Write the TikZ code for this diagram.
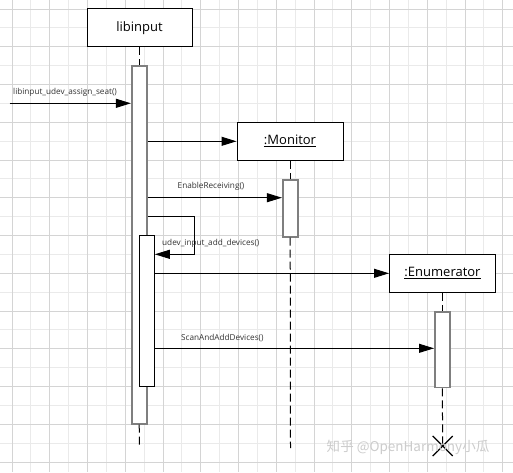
\documentclass[tikz,border=0pt]{standalone}
\usepackage{fontspec}
\setmainfont{Open Sans}
\newfontfamily\cjkfont{Noto Sans CJK SC}
\usetikzlibrary{arrows.meta}
\definecolor{gridminor}{HTML}{EAEAEA}
\definecolor{gridmajor}{HTML}{D4D4D4}
\definecolor{bargray}{HTML}{7F7F7F}
\definecolor{labelgray}{HTML}{333333}
\begin{document}
\begin{tikzpicture}[x=1pt,y=-1pt,
  objbox/.style={draw=black,line width=1pt,fill=white,minimum width=#1,minimum height=38pt,inner sep=0pt,font=\fontsize{13}{15}\selectfont},
  actbar/.style={draw=bargray,line width=1.6pt,fill=white,minimum width=15pt,minimum height=#1,inner sep=0pt,anchor=north},
  actbarblack/.style={draw=black,line width=1pt,fill=white,minimum width=15pt,minimum height=#1,inner sep=0pt,anchor=north},
  lifeline/.style={draw=black,line width=1pt,dash pattern=on 8pt off 4pt},
  msg/.style={draw=black,line width=1pt,-{Triangle[length=15pt,width=9pt]}},
  msglabel/.style={font=\fontsize{8.2}{10}\selectfont,text=labelgray,inner sep=0pt,anchor=south west},
  watermark/.style={font=\cjkfont\fontsize{13.5}{16}\selectfont,text=gray!40,inner sep=0pt}
]
\useasboundingbox (0,0) rectangle (513,472);
\fill[white] (0,0) rectangle (513,472);
% grid
\foreach \k in {-1,...,27} {
  \pgfmathsetmacro{\gx}{12+\k*18.875}
  \draw[gridminor,line width=0.8pt] (\gx,0) -- (\gx,472);
}
\foreach \k in {-1,...,25} {
  \pgfmathsetmacro{\gy}{9+\k*18.875}
  \draw[gridminor,line width=0.8pt] (0,\gy) -- (513,\gy);
}
\foreach \k in {0,...,13} {
  \pgfmathsetmacro{\gx}{12+\k*37.75}
  \draw[gridmajor,line width=0.9pt] (\gx,0) -- (\gx,472);
}
\foreach \k in {0,...,12} {
  \pgfmathsetmacro{\gy}{9+\k*37.75}
  \draw[gridmajor,line width=0.9pt] (0,\gy) -- (513,\gy);
}

% objects
\node[objbox=105pt] (lib) at (139.5,27.7) {libinput};
\node[objbox=106pt] (mon) at (290,141.3) {\underline{:Monitor}};
\node[objbox=106pt] (enum) at (442.5,273.3) {\underline{:Enumerator}};

% lifeline end points
\coordinate (monend) at (290.5,448);
\coordinate (enumX) at (442.7,446);
\coordinate (libend) at (139.5,448);

% activation bars
\node[actbar=358pt] (act1) at (139.2,65) {};
\node[actbarblack=151pt] (act2) at (146.8,235) {};
\node[actbar=57pt] (monact) at (290.2,179) {};
\node[actbar=75.4pt] (enumact) at (442.3,311.3) {};

\draw[lifeline] (lib.south) -- (lib.south |- act1.north);
\draw[lifeline] (act1.south) -- (libend);
\draw[lifeline] (mon.south) -- (mon.south |- monact.north);
\draw[lifeline] (monact.south) -- (monend);
\draw[lifeline] (enum.south) -- (enum.south |- enumact.north);
\draw[lifeline] (enumact.south) -- (enumX);

% X terminator
\draw[black,line width=1.3pt] ([shift={(-10,-10)}]enumX) -- ([shift={(10,10)}]enumX);
\draw[black,line width=1.3pt] ([shift={(-10,10)}]enumX) -- ([shift={(10,-10)}]enumX);

% messages
\coordinate (m1) at (9.5,103.3);
\draw[msg] (m1) -- (act1.west |- m1);
\node[msglabel] (l1) at (13,97) {libinput\_udev\_assign\_seat()};

\draw[msg] (act1.east |- mon.west) -- (mon.west);

\coordinate (m3) at (0,197.7);
\draw[msg] (act1.east |- m3) -- (monact.west |- m3);
\node[msglabel] (l3) at (177.5,191) {EnableReceiving()};

\coordinate (sA) at (194,216);
\coordinate (sB) at (194,254.3);
\draw[msg] (act1.east |- sA) -- (sA) -- (sB) -- (act2.east |- sB);
\node[msglabel] (l4) at (162,248) {udev\_input\_add\_devices()};

\draw[msg] (act2.east |- enum.west) -- (enum.west);

\coordinate (m6) at (0,348.3);
\draw[msg] (act2.east |- m6) -- (enumact.west |- m6);
\node[msglabel] (l6) at (181,342) {ScanAndAddDevices()};

% watermark
\node[watermark] (wm) at (408,447) {知乎 @OpenHarmony小瓜};
\end{tikzpicture}
\end{document}
